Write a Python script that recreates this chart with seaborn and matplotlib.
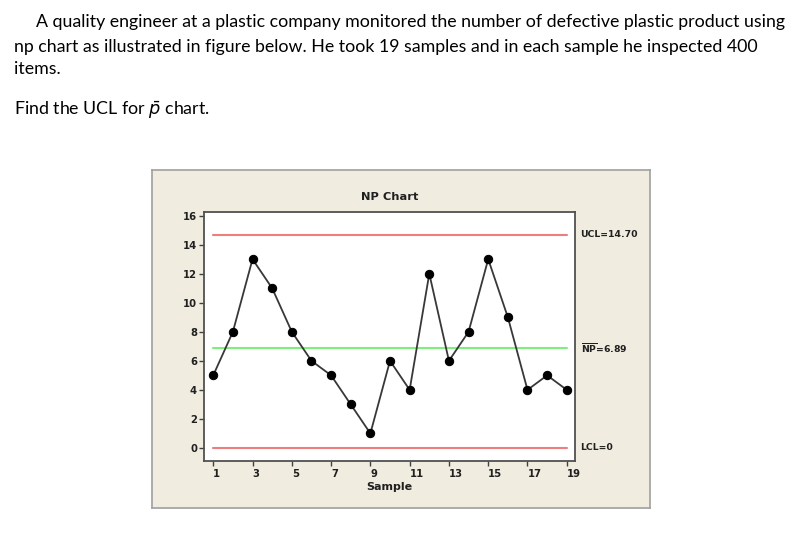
import numpy as np
import pandas as pd
import seaborn as sns
import matplotlib.pyplot as plt

samples = list(range(1, 20))
defectives = [5, 8, 13, 11, 8, 6, 5, 3, 1, 6, 4, 12, 6, 8, 13, 9, 4, 5, 4]
ucl = 14.70
center = 6.89
lcl = 0
x_ticks = [1, 3, 5, 7, 9, 11, 13, 15, 17, 19]
y_ticks = [0, 2, 4, 6, 8, 10, 12, 14, 16]

question_lines = [
    "A quality engineer at a plastic company monitored the number of defective plastic product using",
    "np chart as illustrated in figure below. He took 19 samples and in each sample he inspected 400",
    "items.",
]
question = r"Find the UCL for $\bar{p}$ chart."

df = pd.DataFrame({"Sample": samples, "NP": defectives})

sns.set_style("white")
plt.rcParams["font.family"] = ["DejaVu Sans"]
plt.rcParams["mathtext.fontset"] = "dejavusans"
plt.rcParams["text.color"] = "black"

fig = plt.figure(figsize=(7.96, 5.37), dpi=100)

# beige frame behind the chart
bg = fig.add_axes([0.191, 0.054, 0.626, 0.630])
bg.set_facecolor("#F0ECE0")
bg.set_xticks([])
bg.set_yticks([])
for s in bg.spines.values():
    s.set_color("#A0A0A0")
    s.set_linewidth(1.2)

ax = fig.add_axes([0.2563, 0.1415, 0.4661, 0.4637])
ax.set_facecolor("white")

ax.plot([samples[0], samples[-1]], [ucl, ucl], color="#EE7E7E", lw=1.5)
ax.plot([samples[0], samples[-1]], [lcl, lcl], color="#EE7E7E", lw=1.5)
ax.plot([samples[0], samples[-1]], [center, center], color="#7EEE7E", lw=1.5)

sns.lineplot(data=df, x="Sample", y="NP", ax=ax, color="#383838", lw=1.3,
             marker="o", markersize=6, markerfacecolor="black", markeredgecolor="black")

ax.set_xlim(0.53, 19.42)
ax.set_ylim(-0.9, 16.25)
ax.set_xticks(x_ticks)
ax.set_yticks(y_ticks)
ax.set_xticklabels([str(t) for t in x_ticks], fontsize=7.2, fontweight="bold", ha="left")
ax.set_yticklabels([str(t) for t in y_ticks], fontsize=7.2, fontweight="bold")
ax.tick_params(axis="both", direction="out", length=3.5, width=1, color="#404040",
               labelcolor="#202020", bottom=True, left=True)
ax.tick_params(axis="x", pad=2.5)
ax.tick_params(axis="y", pad=1.5)
ax.set_xlabel("Sample", fontsize=8, fontweight="bold", labelpad=2, color="#202020")
ax.set_ylabel("")
ax.set_title("NP Chart", fontsize=8.2, fontweight="bold", pad=9, color="#202020")
for s in ax.spines.values():
    s.set_color("#505050")
    s.set_linewidth(1.3)

ax.text(1.015, (ucl + 0.9) / 17.15, "UCL=14.70", transform=ax.transAxes,
        fontsize=6.7, fontweight="bold", color="#202020", va="center", ha="left")
ax.text(1.015, (center + 0.9) / 17.15, r"$\overline{\mathbf{NP}}$=6.89", transform=ax.transAxes,
        fontsize=6.7, fontweight="bold", color="#202020", va="center", ha="left")
ax.text(1.015, (lcl + 0.9) / 17.15, "LCL=0", transform=ax.transAxes,
        fontsize=6.7, fontweight="bold", color="#202020", va="center", ha="left")

# question text above the chart
qfont = ["Lato", "DejaVu Sans"]
fig.text(36 / 796, 1 - 22 / 537, question_lines[0], fontsize=12.8, family=qfont, va="center")
fig.text(14 / 796, 1 - 47 / 537, question_lines[1], fontsize=12.8, family=qfont, va="center")
fig.text(14 / 796, 1 - 69 / 537, question_lines[2], fontsize=12.8, family=qfont, va="center")
fig.text(14 / 796, 1 - 110 / 537, question, fontsize=12.8, family=qfont, va="center")

fig.savefig("out.png", dpi=100, facecolor="white")
